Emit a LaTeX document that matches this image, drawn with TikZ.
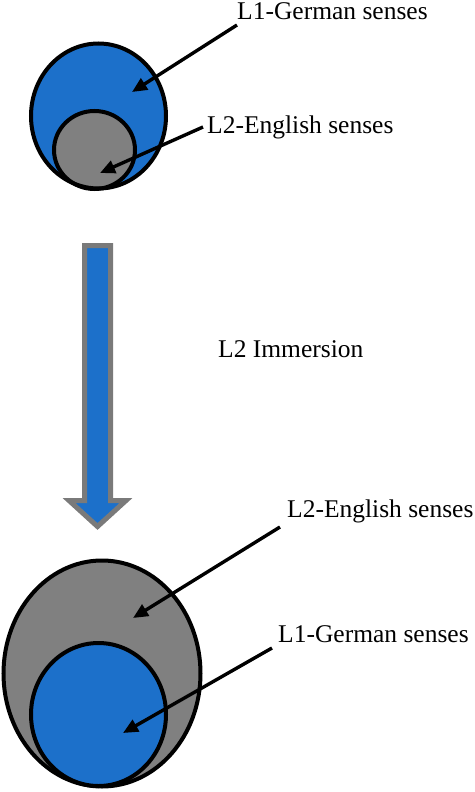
\documentclass[tikz,border=0pt]{standalone}
\usepackage{fontspec}
\setmainfont{Liberation Serif}
\usetikzlibrary{arrows.meta}
\definecolor{senseblue}{RGB}{28,112,202}
\definecolor{sensegray}{RGB}{128,128,128}
\definecolor{rimgray}{RGB}{122,122,122}

\begin{document}
\begin{tikzpicture}[x=1pt,y=-1pt,
    lbl/.style={anchor=base west,inner sep=0pt,font=\fontsize{25.5}{30}\selectfont},
    ptr/.style={line width=3.4pt,-{Triangle[length=15pt,width=13pt]}},
    rim/.style={draw=black,line width=4pt}]
          \useasboundingbox (0,0) rectangle (474,792);

          % before immersion
          \fill[senseblue] (98.5,116) ellipse (67.5 and 72.5);
          \draw[rim,fill=sensegray] (94.5,150) ellipse (40.5 and 39);
          \draw[rim] (98.5,116) ellipse (67.5 and 72.5);

          \node[lbl] (gerTop) at (237,20) {L1-German senses};
          \node[lbl] (engTop) at (207,133) {L2-English senses};
          \coordinate (gerTopTip) at (132,92);
          \coordinate (engTopTip) at (100,173);
          \draw[ptr] (gerTop.base west) ++(0,5) -- (gerTopTip);
          \draw[ptr] (engTop.base west) ++(-4,-6) -- (engTopTip);

          % immersion arrow
          \draw[draw=rimgray,fill=senseblue,line width=5pt,line join=miter]
             (84.5,245.5) -- (110.5,245.5) -- (110.5,500.5) -- (126,500.5)
             -- (97.5,526.5) -- (69,500.5) -- (84.5,500.5) -- cycle;
          \node[lbl] (imm) at (218,357) {L2 Immersion};

          % after immersion
          \draw[rim,fill=sensegray] (102,673.5) ellipse (98.5 and 113);
          \draw[rim,fill=senseblue] (98.5,714.5) ellipse (67.5 and 71.5);

          \node[lbl] (engBot) at (287,517) {L2-English senses};
          \node[lbl] (gerBot) at (278,642) {L1-German senses};
          \coordinate (engBotTip) at (133,618);
          \coordinate (gerBotTip) at (123,733);
          \draw[ptr] (engBot.base west) ++(-7,10) -- (engBotTip);
          \draw[ptr] (gerBot.base west) ++(-6,6) -- (gerBotTip);
\end{tikzpicture}
\end{document}
